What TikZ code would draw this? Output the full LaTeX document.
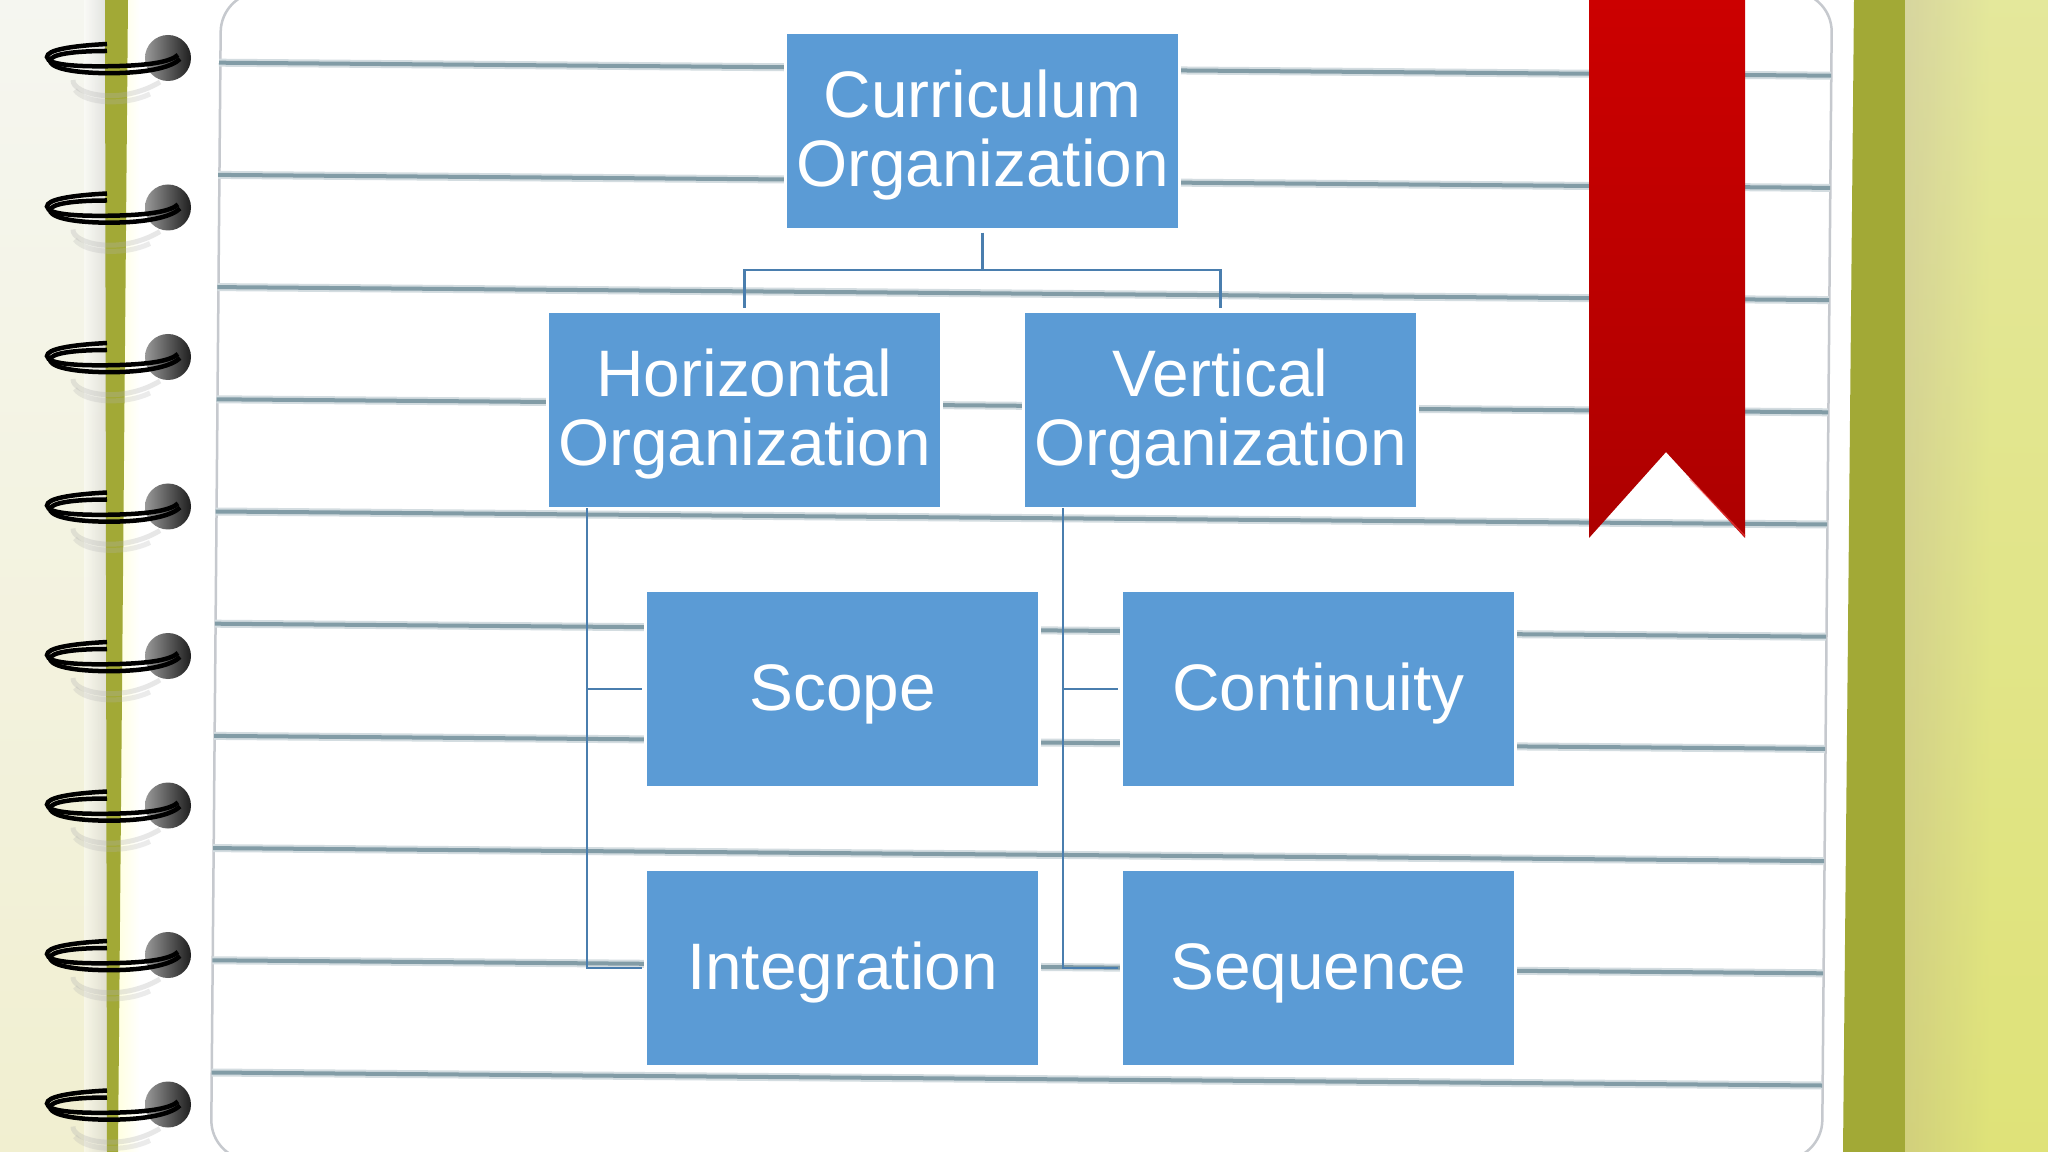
\documentclass[tikz,border=0pt]{standalone}
\usepackage{fontspec}
\setmainfont{Liberation Sans}
\definecolor{boite}{HTML}{5B9BD5}
\definecolor{lien}{HTML}{4A7EAE}
\definecolor{olive}{HTML}{A2A936}
\definecolor{regle}{HTML}{829CA6}
\definecolor{bord}{HTML}{C6C9CE}
\definecolor{cremea}{HTML}{F5F6F0}
\definecolor{cremeb}{HTML}{F4F4E0}
\definecolor{cremec}{HTML}{F1EFD0}
\definecolor{pale}{HTML}{FFFFE1}
\definecolor{bandea}{HTML}{D0CE8E}
\definecolor{bandeb}{HTML}{E0E48A}
\newcommand{\hautligne}{\rule{0pt}{0.55cm}}
\tikzset{
	boxnode/.style={draw=white, line width=0.03cm, fill=boite, text=white, align=center, minimum width=3.945cm, minimum height=1.97cm, inner sep=0pt, font=\fontsize{18.7}{19.6}\selectfont},
	onebox/.style={boxnode, execute at begin node={\rule{0pt}{0.57cm}}},
	linkline/.style={draw=lien, line width=0.025cm}
}
\begin{document}
\begin{tikzpicture}[x=0.01cm, y=-0.01cm]
		\useasboundingbox (0,0) rectangle (2048,1152);

		% Fond
		\fill[white] (0,0) rectangle (2048,1152);
		\shade[top color=cremea, middle color=cremeb, bottom color=cremec] (0,0) rectangle (112,1152);
		\shade[left color=black!0, right color=black!22, opacity=0.45] (84,0) rectangle (108,1152);
		\shade[left color=pale, right color=white] (118,0) rectangle (140,1152);
		\fill[olive] (105,0) -- (128,0) -- (118,1152) -- (107,1152) -- cycle;
		\fill[olive] (1854,0) -- (1905,0) -- (1905,1152) -- (1843,1152) -- cycle;
		\shade[left color=bandea, right color=bandeb] (1905,0) rectangle (1990,1152);
		\fill[bandeb] (1990,0) rectangle (2048,1152);
		\shade[top color=white, bottom color=yellow!60!olive, opacity=0.15] (1905,0) rectangle (2048,1152);

		% Feuille
		\draw[bord, line width=0.025cm, rounded corners=0.4cm] (221,-8) -- (211,1160) -- (1822,1160) -- (1832,-8) -- cycle;

		% Lignes
		\foreach \i in {0,...,9} {
				\draw[regle!35!white, line width=0.08cm] ({219-0.83*\i},{62.7+112.2*\i}) -- ({1831-1.0*\i},{75.7+112.2*\i});
				\draw[regle, line width=0.04cm] ({219-0.83*\i},{62.7+112.2*\i}) -- ({1831-1.0*\i},{75.7+112.2*\i});
		}

		% Ruban
		\shade[top color=red!80!black, bottom color=red!68!black] (1589,0) -- (1745,0) -- (1745,538) -- (1666,452) -- (1589,538) -- cycle;
		\draw[red!70!white, opacity=0.5, line width=0.015cm] (1690,479) -- (1745,536);

		% Spirales
		\foreach \y in {0,...,7} {
				\begin{scope}[shift={(0,{149.5*\y})}]
						\draw[black!30, opacity=0.3, line width=0.05cm] (73,80) .. controls (72,94) and (120,106) .. (160,82);
						\draw[black!30, opacity=0.25, line width=0.05cm] (75,90) .. controls (85,104) and (125,106) .. (150,94);
						\shade[left color=black!40, right color=black!88] (168,58) circle (23);
						\draw[black, line width=0.045cm] (107,44) .. controls (70,46) and (47,50) .. (47,57) .. controls (47,66) and (85,67) .. (120,66) .. controls (150,65) and (170,62) .. (178,55);
						\draw[black, line width=0.045cm] (107,51) .. controls (75,51) and (50,54) .. (50,61) .. controls (52,71) and (90,74) .. (120,73) .. controls (150,72) and (172,67) .. (180,59);
				\end{scope}
		}

		% Boites
		\node[boxnode] at (982.5,131) (c) {\hautligne Curriculum\\Organization};
		\node[boxnode] at (744.5,410) (h) {\hautligne Horizontal\\Organization};
		\node[boxnode] at (1220.5,410) (v) {\hautligne Vertical\\Organization};
		\node[onebox] at (842.5,689) (s) {Scope};
		\node[onebox] at (842.5,968) (i) {Integration};
		\node[onebox] at (1318.5,689) (o) {Continuity};
		\node[onebox] at (1318.5,968) (q) {Sequence};

		% Liens
		\coordinate (j) at (982.5,270);
		\coordinate (hb) at ([xshift=0.415cm, yshift=0.02cm]h.south west);
		\coordinate (vb) at ([xshift=0.415cm, yshift=0.02cm]v.south west);
		\draw[linkline, shorten <=0.015cm] (c.south) -- (j);
		\draw[linkline, shorten >=0.015cm] (j) -| (h.north);
		\draw[linkline, shorten >=0.015cm] (j) -| (v.north);
		\draw[linkline, shorten >=0.015cm] (hb) |- (s.west);
		\draw[linkline, shorten >=0.015cm] (hb) |- (i.west);
		\draw[linkline, shorten >=0.015cm] (vb) |- (o.west);
		\draw[linkline, shorten >=0.015cm] (vb) |- (q.west);
\end{tikzpicture}
\end{document}
